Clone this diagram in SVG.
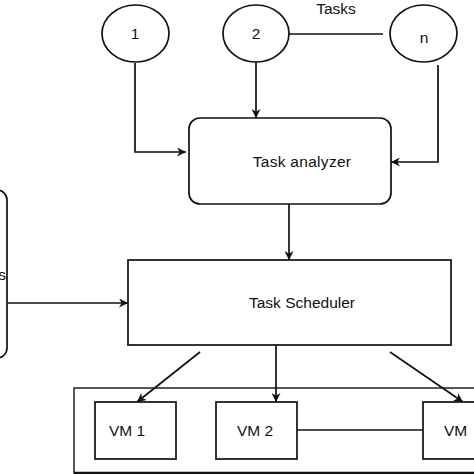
<svg xmlns="http://www.w3.org/2000/svg" width="474" height="474" viewBox="0 0 474 474">
<defs>
<style>
.s{fill:#fff;stroke:#111;stroke-width:1.7}
.t{font-family:"Liberation Sans",Arial,sans-serif;font-size:15.5px;fill:#111}
.c{fill:none;stroke:#111;stroke-width:1.7}
</style>
<marker id="a" viewBox="0 0 10 10" refX="10" refY="5" markerWidth="10" markerHeight="9" orient="auto" markerUnits="userSpaceOnUse">
<path d="M0,0 L10,5 L0,10 L3,5 Z" fill="#111"/>
</marker>
</defs>
<rect width="474" height="474" fill="#fff"/>
<g id="container"><rect class="s" x="74" y="388" width="420" height="85" style="stroke-width:1.4"/><line x1="74" y1="473" x2="474" y2="473" stroke="#111" stroke-width="2.5"/></g>
<g id="connectors">
<polyline class="c" points="135,63 135,152 186,152" marker-end="url(#a)"/>
<line class="c" x1="256" y1="62" x2="256" y2="118" marker-end="url(#a)"/>
<polyline class="c" points="438,65 438,162 391,162" marker-end="url(#a)"/>
<line class="c" x1="289" y1="34" x2="383" y2="34"/>
<line class="c" x1="289" y1="204" x2="289" y2="260" marker-end="url(#a)"/>
<line class="c" x1="8" y1="303" x2="128" y2="303" marker-end="url(#a)"/>
<line class="c" x1="200" y1="352" x2="137" y2="402" marker-end="url(#a)"/>
<line class="c" x1="276" y1="345" x2="276" y2="402" marker-end="url(#a)"/>
<line class="c" x1="390" y1="352" x2="463" y2="402" marker-end="url(#a)"/>
<line class="c" x1="297" y1="430" x2="423" y2="430"/>
</g>
<g id="task1"><ellipse class="s" cx="135.5" cy="33.5" rx="33.5" ry="28.5"/><text class="t" x="135" y="39" text-anchor="middle">1</text></g>
<g id="task2"><ellipse class="s" cx="256" cy="33.5" rx="33" ry="28.5"/><text class="t" x="256" y="39" text-anchor="middle">2</text></g>
<g id="taskn"><ellipse class="s" cx="423.5" cy="33.5" rx="33.5" ry="28.5"/><text class="t" x="424" y="43" text-anchor="middle">n</text></g>
<g id="tasks-label"><text class="t" x="336" y="14" text-anchor="middle">Tasks</text></g>
<g id="analyzer"><rect class="s" x="189" y="118" width="202" height="86" rx="11"/><text class="t" x="302" y="167" text-anchor="middle" style="letter-spacing:0.3px">Task analyzer</text></g>
<g id="left"><rect class="s" x="-40" y="190" width="47" height="168" rx="10"/><text class="t" x="6" y="280" text-anchor="end">s</text></g>
<g id="scheduler"><rect class="s" x="128" y="260" width="323" height="85"/><text class="t" x="302" y="308" text-anchor="middle">Task Scheduler</text></g>
<g id="vm1"><rect class="s" x="95" y="402" width="81" height="57"/><text class="t" x="127" y="436" text-anchor="middle">VM 1</text></g>
<g id="vm2"><rect class="s" x="216" y="402" width="81" height="57"/><text class="t" x="255" y="436" text-anchor="middle">VM 2</text></g>
<g id="vmn"><rect class="s" x="423" y="402" width="81" height="57"/><text class="t" x="444" y="436">VM</text></g>
</svg>
